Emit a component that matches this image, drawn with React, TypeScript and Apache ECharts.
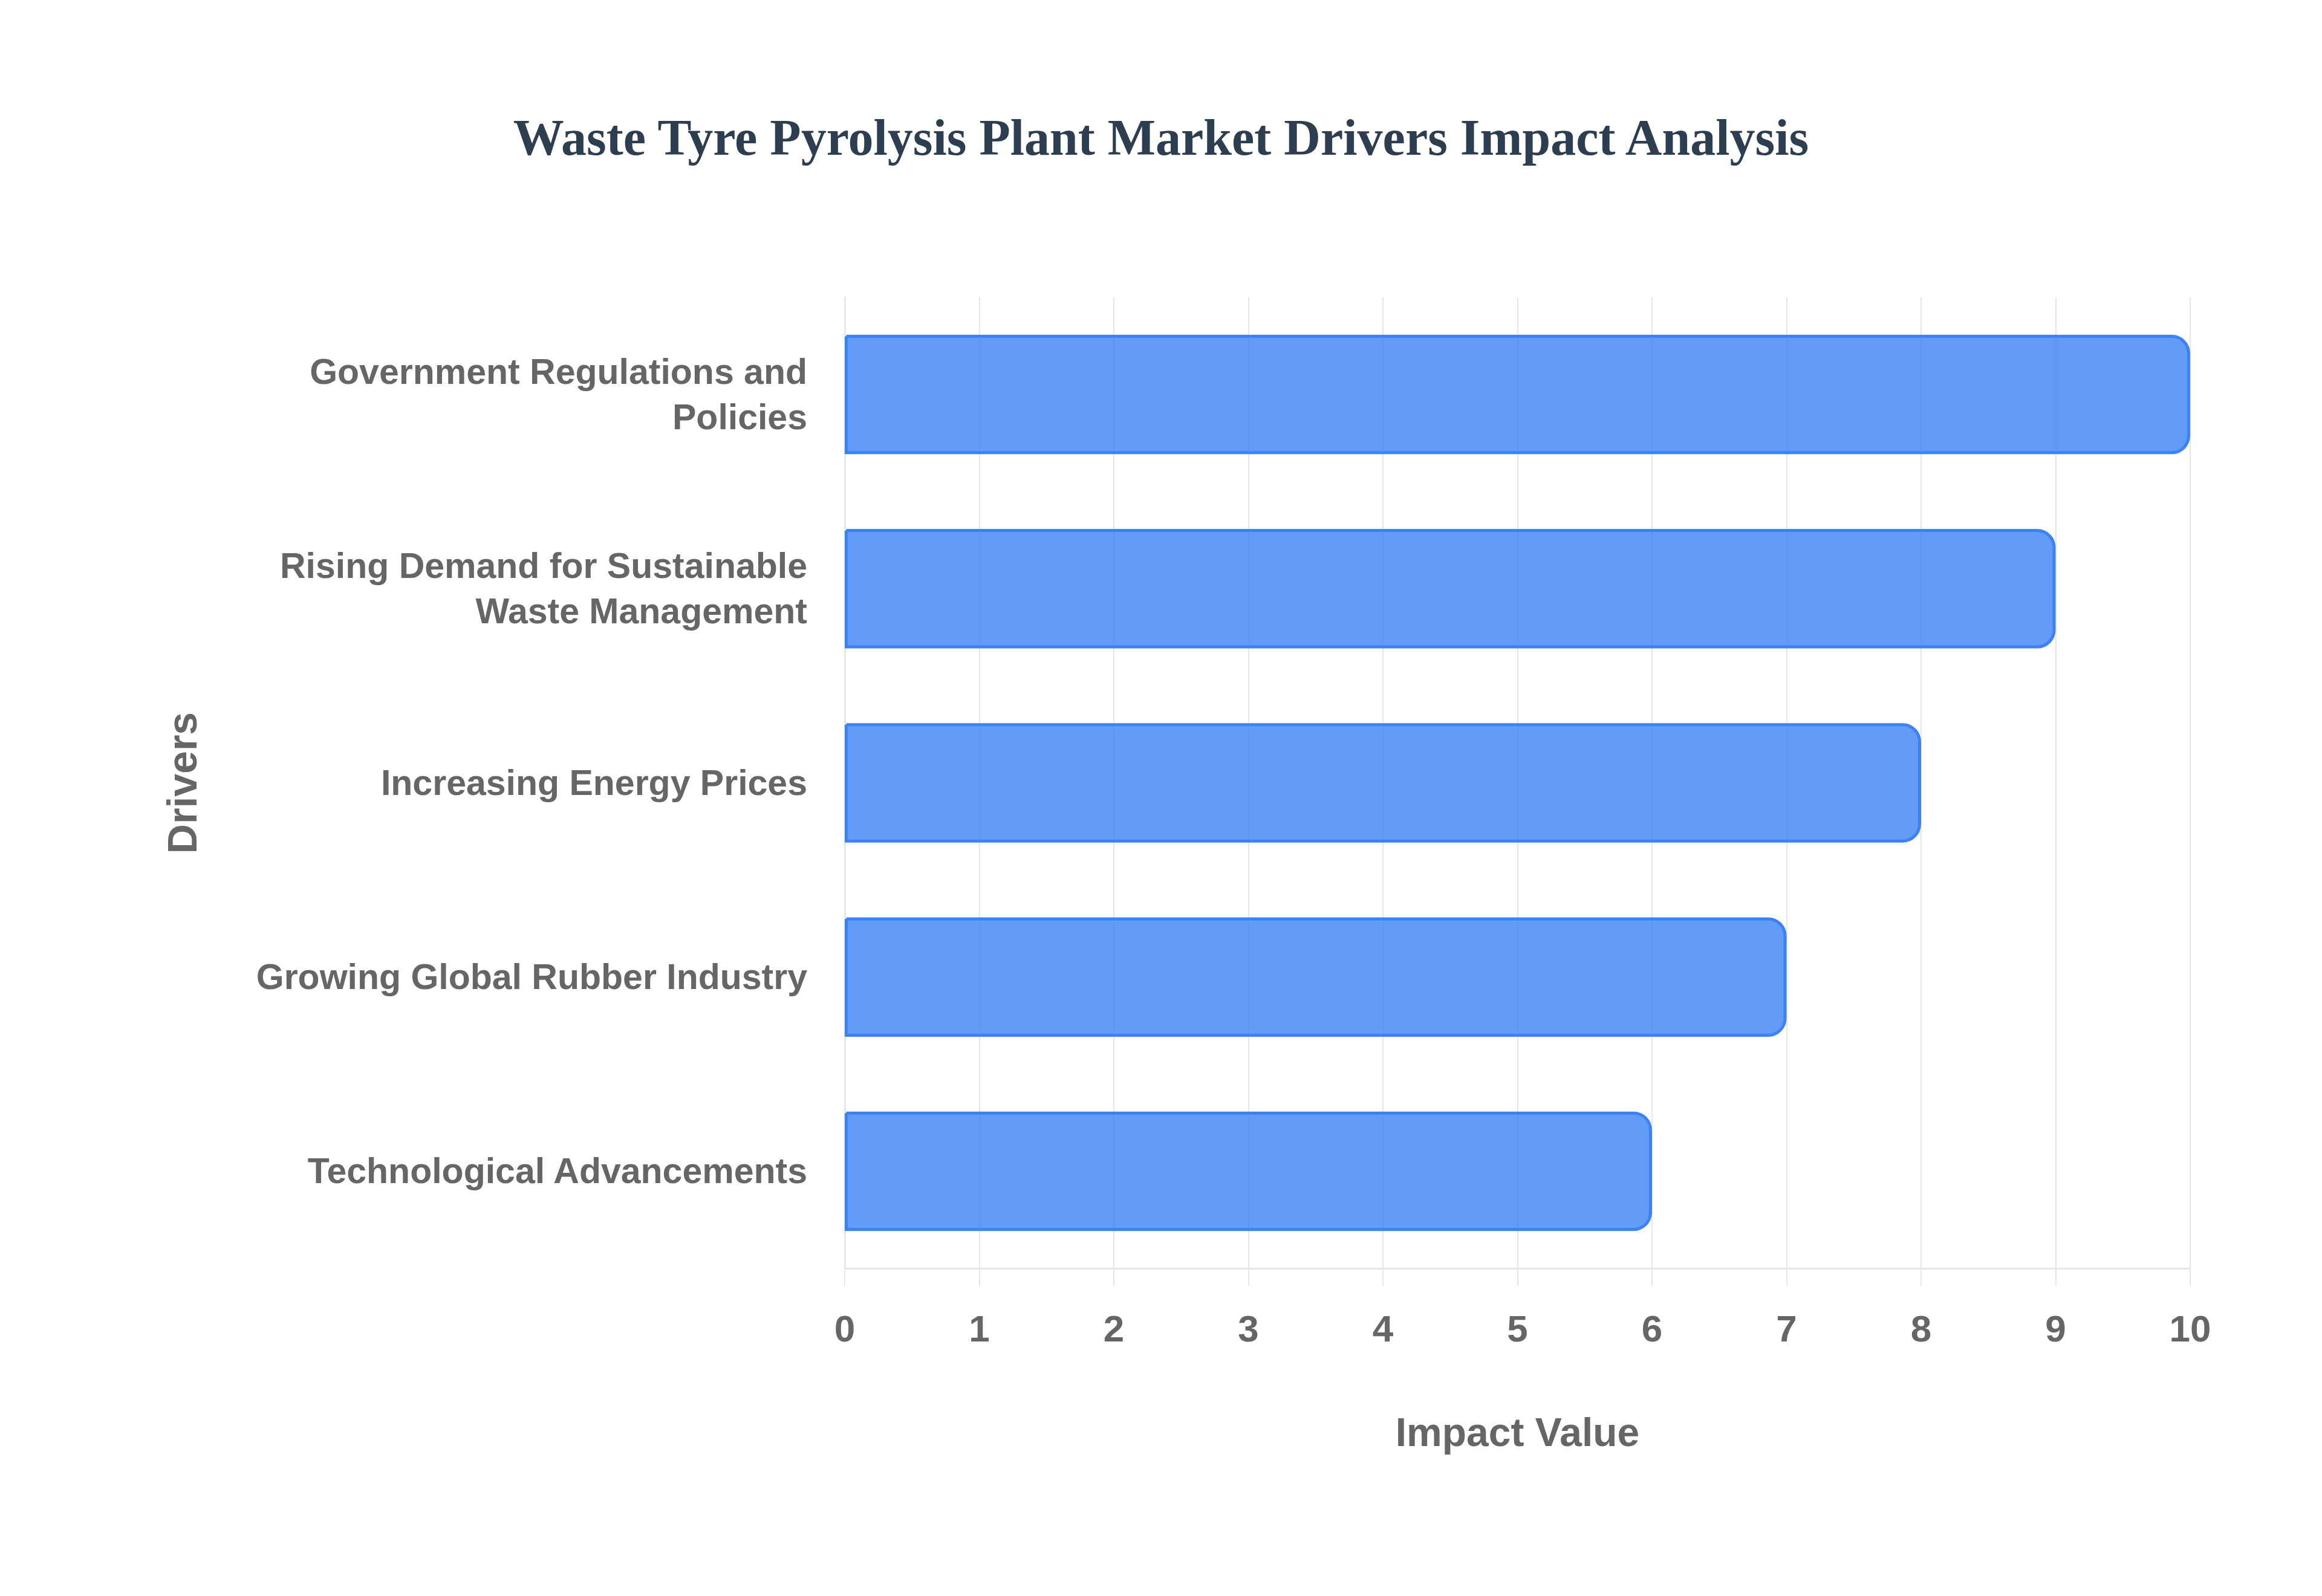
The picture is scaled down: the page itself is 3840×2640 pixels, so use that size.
import React, { useEffect, useRef } from 'react';
import * as echarts from 'echarts';

// Drivers listed top to bottom as they appear in the chart
const drivers = [
  'Government Regulations and Policies',
  'Rising Demand for Sustainable Waste Management',
  'Increasing Energy Prices',
  'Growing Global Rubber Industry',
  'Technological Advancements',
];
const impactValues = [10, 9, 8, 7, 6];

const titleText = 'Waste Tyre Pyrolysis Plant Market Drivers Impact Analysis';
const xAxisName = 'Impact Value';
const yAxisName = 'Drivers';

const labelColor = '#666666';
const gridColor = '#e6e6e6';

// wrap long driver names on word boundaries
const wrapLabel = (text: string, maxChars = 30) => {
  const lines: string[] = [];
  let line = '';
  text.split(' ').forEach(word => {
    const next = line ? `${line} ${word}` : word;
    if (next.length > maxChars && line) {
      lines.push(line);
      line = word;
    } else {
      line = next;
    }
  });
  if (line) lines.push(line);
  return lines.join('\n');
};

const App: React.FC = () => {
  const chartRef = useRef<HTMLDivElement>(null);

  useEffect(() => {
    document.body.style.margin = '0';
    if (!chartRef.current) {
      return;
    }

    const chart = echarts.init(chartRef.current, null, { renderer: 'svg' });

    const option: echarts.EChartsOption = {
      animation: false,
      backgroundColor: '#ffffff',
      title: {
        text: titleText,
        left: 'center',
        top: 180,
        textStyle: {
          fontFamily: '"Liberation Serif", "Times New Roman", serif',
          fontWeight: 'bold',
          fontSize: 84,
          color: '#2c3e50',
        },
      },
      grid: {
        left: 1397,
        right: 218,
        top: 492,
        bottom: 542,
        containLabel: false,
      },
      xAxis: {
        type: 'value',
        min: 0,
        max: 10,
        interval: 1,
        name: xAxisName,
        nameLocation: 'middle',
        nameGap: 238,
        nameTextStyle: {
          fontFamily: '"Liberation Sans", Arial, sans-serif',
          fontWeight: 'bold',
          fontSize: 66,
          color: labelColor,
        },
        axisLine: {
          show: true,
          lineStyle: { color: gridColor, width: 3 },
        },
        axisTick: {
          show: true,
          length: 29,
          lineStyle: { color: gridColor, width: 2 },
        },
        axisLabel: {
          margin: 68,
          fontFamily: '"Liberation Sans", Arial, sans-serif',
          fontWeight: 'bold',
          fontSize: 62,
          color: labelColor,
        },
        splitLine: {
          show: true,
          lineStyle: { color: gridColor, width: 2 },
        },
      },
      yAxis: {
        type: 'category',
        data: drivers,
        inverse: true,
        name: yAxisName,
        nameLocation: 'middle',
        nameGap: 1062,
        nameTextStyle: {
          fontFamily: '"Liberation Sans", Arial, sans-serif',
          fontWeight: 'bold',
          fontSize: 68,
          color: labelColor,
        },
        axisLine: {
          show: true,
          lineStyle: { color: gridColor, width: 3 },
        },
        axisTick: { show: false },
        axisLabel: {
          margin: 62,
          lineHeight: 75,
          formatter: (value: string) => wrapLabel(value),
          fontFamily: '"Liberation Sans", Arial, sans-serif',
          fontWeight: 'bold',
          fontSize: 59,
          color: labelColor,
        },
        splitLine: { show: false },
      },
      series: [
        {
          type: 'bar',
          data: impactValues,
          barWidth: '61.5%',
          itemStyle: {
            color: 'rgba(59, 130, 246, 0.8)',
            borderColor: '#3b82f6',
            borderWidth: 5,
            borderRadius: [0, 28, 28, 0],
          },
        },
      ],
    };

    chart.setOption(option, true);

    return () => {
      chart.dispose();
    };
  }, []);

  return <div ref={chartRef} style={{ width: '3840px', height: '2640px' }} />;
};

export default App;
